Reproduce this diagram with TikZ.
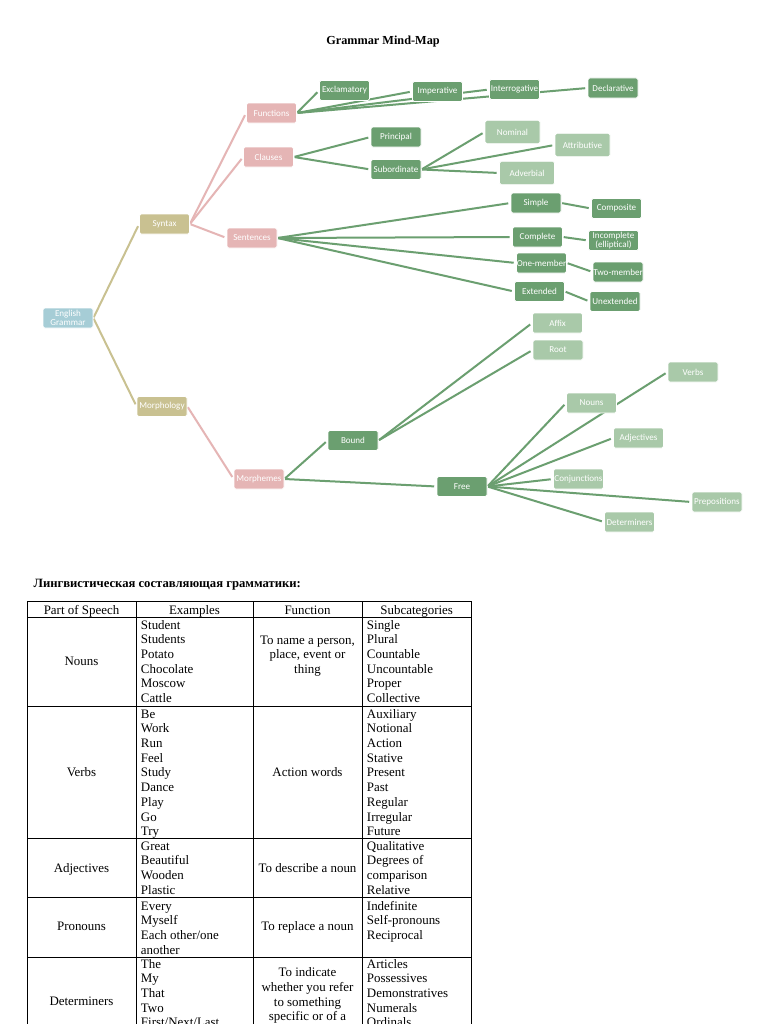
\documentclass[tikz,border=0pt]{standalone}
\usepackage{fontspec}
\setmainfont{Liberation Serif}
\newfontfamily\mmfont{Carlito}
\usetikzlibrary{backgrounds}
\definecolor{dgreen}{HTML}{6B9F70}
\definecolor{lgreen}{HTML}{A9C9A9}
\definecolor{mpink}{HTML}{E5B5B5}
\definecolor{khaki}{HTML}{C9C191}
\definecolor{lblue}{HTML}{A6CDD6}
\newcommand\tabcol[5]{%
  \foreach \celltext [count=\cellnum] in {#5}
    \node[tabtxt, anchor=#4] (#1\cellnum) at (#2, {#3+14.67*(\cellnum-1)}) {\celltext};}
\begin{document}
\begin{tikzpicture}[x=0.75pt, y=-0.75pt,
  mmbox/.style={rectangle, rounded corners=1.2pt, draw=white, line width=0.6pt,
    text=white, font=\mmfont\fontsize{6.8}{6.9}\selectfont,
    minimum width=37.5pt, minimum height=15pt, inner sep=0.2pt, align=center},
  mmblue/.style={mmbox, fill=lblue},
  mmkhaki/.style={mmbox, fill=khaki},
  mmpink/.style={mmbox, fill=mpink},
  mmdark/.style={mmbox, fill=dgreen},
  mmlight/.style={mmbox, fill=lgreen},
  mmbig/.style={minimum width=41.25pt, minimum height=17.5pt},
  conn/.style={line width=1.5pt, shorten <=0.6pt, shorten >=1.8pt},
  lnk/.style={conn, draw=khaki},
  lnp/.style={conn, draw=mpink},
  lng/.style={conn, draw=dgreen},
  tabtxt/.style={inner sep=0pt, font=\fontsize{9.7}{11}\selectfont},
  tabline/.style={line width=0.7pt, draw=black}
]
\useasboundingbox (0,0) rectangle (768,1024);
\clip (0,0) rectangle (768,1024);

% title
\node[font=\bfseries\fontsize{9.2}{11}\selectfont, anchor=base, inner sep=0pt] (title) at (383,44.7) {Grammar Mind-Map};

% mind map nodes
\node[mmblue] (eg) at (68,318) {English\\Grammar};
\node[mmkhaki] (syn) at (164.5,224) {Syntax};
\node[mmkhaki] (mor) at (162,406.5) {Morphology};
\node[mmpink] (fun) at (271.5,113) {Functions};
\node[mmpink] (cla) at (268.5,157) {Clauses};
\node[mmpink] (sen) at (252,238) {Sentences};
\node[mmpink] (mph) at (259,479) {Morphemes};
\node[mmdark] (exc) at (344.5,90.5) {Exclamatory};
\node[mmdark] (imp) at (437.5,91.5) {Imperative};
\node[mmdark] (int) at (514.5,89.5) {Interrogative};
\node[mmdark] (dec) at (613,88) {Declarative};
\node[mmdark] (pri) at (396,137) {Principal};
\node[mmdark] (sub) at (396,169.5) {Subordinate};
\node[mmlight,mmbig] (nom) at (512.5,132) {Nominal};
\node[mmlight,mmbig] (att) at (582.5,145) {Attributive};
\node[mmlight,mmbig] (adv) at (527,173) {Adverbial};
\node[mmdark] (sim) at (536,203) {Simple};
\node[mmdark] (cps) at (616.5,208.5) {Composite};
\node[mmdark] (com) at (537.5,237) {Complete};
\node[mmdark] (inc) at (613.5,240.5) {Incomplete\\(elliptical)};
\node[mmdark] (one) at (541.5,263) {One-member};
\node[mmdark] (two) at (618,272) {Two-member};
\node[mmdark] (ext) at (539.5,291.5) {Extended};
\node[mmdark] (une) at (615,301.5) {Unextended};
\node[mmlight] (aff) at (557.5,323) {Affix};
\node[mmlight] (roo) at (558,350) {Root};
\node[mmlight] (ver) at (693,372) {Verbs};
\node[mmlight] (nou) at (591.5,403) {Nouns};
\node[mmlight] (adj) at (638.5,438) {Adjectives};
\node[mmlight] (con) at (578.5,479) {Conjunctions};
\node[mmlight] (pre) at (717,502) {Prepositions};
\node[mmlight] (det) at (629.5,522) {Determiners};
\node[mmdark] (bou) at (353,440.5) {Bound};
\node[mmdark] (fre) at (462,486.5) {Free};

\begin{scope}[on background layer]
\fill[white] (0,0) rectangle (768,1024);
\draw[lnk] (eg.east) -- (syn.west);
\draw[lnk] (eg.east) -- (mor.west);
\draw[lnp] (syn.east) -- (fun.west);
\draw[lnp] (syn.east) -- (cla.west);
\draw[lnp] (syn.east) -- (sen.west);
\draw[lnp] (mor.east) -- (mph.west);
\foreach \kid in {exc,imp,int,dec} \draw[lng] (fun.east) -- (\kid.west);
\foreach \kid in {pri,sub} \draw[lng] (cla.east) -- (\kid.west);
\foreach \kid in {nom,att,adv} \draw[lng] (sub.east) -- (\kid.west);
\foreach \kid in {sim,com,one,ext} \draw[lng] (sen.east) -- (\kid.west);
\draw[lng] (sim.east) -- (cps.west);
\draw[lng] (com.east) -- (inc.west);
\draw[lng] (one.east) -- (two.west);
\draw[lng] (ext.east) -- (une.west);
\foreach \kid in {bou,fre} \draw[lng] (mph.east) -- (\kid.west);
\foreach \kid in {aff,roo} \draw[lng] (bou.east) -- (\kid.west);
\foreach \kid in {nou,ver,adj,con,pre,det} \draw[lng] (fre.east) -- (\kid.west);
\end{scope}

% heading
\node[font=\bfseries\fontsize{9.5}{11}\selectfont, anchor=base west, inner sep=0pt] (head) at (33.3,587.3) {Лингвистическая составляющая грамматики:};

% table grid
\draw[tabline] (27,601.5) rectangle (471.5,1060);
\foreach \yy in {617.5,706.5,838,897.5,957} \draw[tabline] (27,\yy) -- (471.5,\yy);
\foreach \xx in {136,253,362} \draw[tabline] (\xx,601.5) -- (\xx,1060);

% header
\node[tabtxt, anchor=base] (h1) at (81.5,614.3) {Part of Speech};
\node[tabtxt, anchor=base] (h2) at (194.5,614.3) {Examples};
\node[tabtxt, anchor=base] (h3) at (307.5,614.3) {Function};
\node[tabtxt, anchor=base] (h4) at (416.7,614.3) {Subcategories};

% Nouns
\node[tabtxt, anchor=base] (pl1) at (81.5,665) {Nouns};
\tabcol{nx}{140.7}{629.3}{base west}{Student,Students,Potato,Chocolate,Moscow,Cattle}
\tabcol{nf}{307.5}{644}{base}{{To name a person,},{place, event or},thing}
\tabcol{ns}{366.7}{629.3}{base west}{Single,Plural,Countable,Uncountable,Proper,Collective}

% Verbs
\node[tabtxt, anchor=base] (pl2) at (81.5,776) {Verbs};
\tabcol{vx}{140.7}{718.3}{base west}{Be,Work,Run,Feel,Study,Dance,Play,Go,Try}
\node[tabtxt, anchor=base] (vf1) at (307.5,776) {Action words};
\tabcol{vs}{366.7}{718.3}{base west}{Auxiliary,Notional,Action,Stative,Present,Past,Regular,Irregular,Future}

% Adjectives
\node[tabtxt, anchor=base] (pl3) at (81.5,872.7) {Adjectives};
\tabcol{ax}{140.7}{850}{base west}{Great,Beautiful,Wooden,Plastic}
\node[tabtxt, anchor=base] (af1) at (307.5,872.7) {To describe a noun};
\tabcol{as}{366.7}{850}{base west}{Qualitative,Degrees of,comparison,Relative}

% Pronouns
\node[tabtxt, anchor=base] (pl4) at (81.5,930.7) {Pronouns};
\tabcol{px}{140.7}{910}{base west}{Every,Myself,Each other/one,another}
\node[tabtxt, anchor=base] (pf1) at (307.5,930.7) {To replace a noun};
\tabcol{ps}{366.7}{910}{base west}{Indefinite,Self-pronouns,Reciprocal}

% Determiners
\node[tabtxt, anchor=base] (pl5) at (81.5,1005) {Determiners};
\tabcol{dx}{140.7}{968.3}{base west}{The,My,That,Two,First/Next/Last}
\tabcol{df}{307.5}{976.7}{base}{To indicate,whether you refer,to something,specific or of a}
\tabcol{ds}{366.7}{968.3}{base west}{Articles,Possessives,Demonstratives,Numerals,Ordinals}
\end{tikzpicture}
\end{document}
